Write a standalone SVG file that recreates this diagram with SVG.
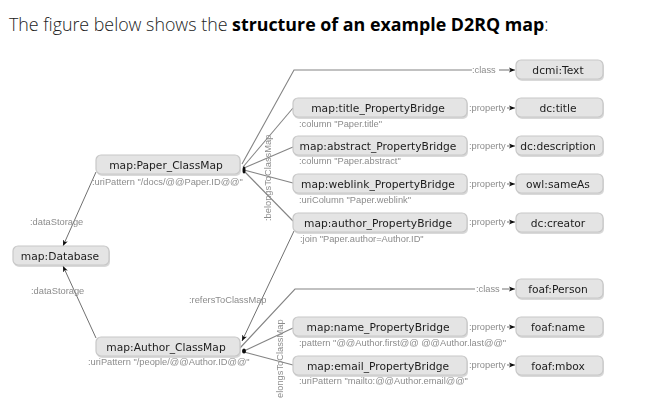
<svg xmlns="http://www.w3.org/2000/svg" width="650" height="400" viewBox="0 0 650 400">
<defs>
<filter id="blur" x="-2%" y="-2%" width="104%" height="104%"><feGaussianBlur stdDeviation="0.4"/></filter>
<marker id="arr" markerWidth="7" markerHeight="6" refX="6" refY="3" orient="auto" markerUnits="userSpaceOnUse"><path d="M0,0.5 L6,3 L0,5.5 L1.5,3 Z" fill="#111"/></marker>
</defs>
<style>
.box{fill:#e4e4e4;stroke:#c8c8c8;stroke-width:1.2}
.shadow{fill:#b4b4b4;opacity:.5}
.name{font:10.7px "DejaVu Sans",sans-serif;fill:#1c1c1c;text-anchor:middle}
.lit{font:9.3px "Liberation Sans",Arial,sans-serif;fill:#8c8c8c}
.edge{fill:none;stroke:#848484;stroke-width:1.1}
.tip{fill:none;stroke:#707070;stroke-width:1;marker-end:url(#arr)}
.head{font-family:"Open Sans","Noto Sans",sans-serif;font-size:17.82px;fill:#222}
.blob{fill:#111}
</style>
<text x="9" y="31" class="head" font-weight="300">The figure below shows the <tspan font-weight="700" fill="#000">structure of an example D2RQ map</tspan>:</text>
<g filter="url(#blur)">
<g id="connectors">
<path class="edge" d="M242,164 L294,70 L472,70"/>
<path class="edge" d="M243,167 L293,108"/>
<path class="edge" d="M244,168 L293,147"/>
<path class="edge" d="M244,170 L293,183"/>
<path class="edge" d="M244,171 L293,221"/>
<ellipse class="blob" cx="244" cy="170" rx="1.5" ry="3.5"/>
<path class="tip" d="M96,172 L63,246"/>
<path class="tip" d="M96,338 L63,266"/>
<path class="tip" d="M294,231 L242,341"/>
<path class="edge" d="M240,348 L295,289 L475,289"/>
<path class="edge" d="M244,351 L293,328"/>
<path class="edge" d="M244,352 L293,365"/>
<ellipse class="blob" cx="244" cy="351" rx="2" ry="2.5"/>
<path class="tip" d="M499,70 L515,70"/>
<path class="tip" d="M507,108 L515,108"/>
<path class="tip" d="M507,146 L515,146"/>
<path class="tip" d="M507,184 L515,184"/>
<path class="tip" d="M507,222 L515,222"/>
<path class="tip" d="M502,289 L515,289"/>
<path class="tip" d="M507,327 L515,327"/>
<path class="tip" d="M507,365 L515,365"/>
</g>
<g id="edge-labels" class="lit">
<text x="30" y="225">:dataStorage</text>
<text x="31" y="294">:dataStorage</text>
<text x="189" y="303">:refersToClassMap</text>
<text x="472" y="73">:class</text>
<text x="476" y="292">:class</text>
<text x="469" y="111">:property</text>
<text x="469" y="149">:property</text>
<text x="469" y="187">:property</text>
<text x="469" y="225">:property</text>
<text x="469" y="330">:property</text>
<text x="469" y="368">:property</text>
<text transform="translate(271,221) rotate(-90)">:belongsToClassMap</text>
<text transform="translate(283,398) rotate(-90)">elongsToClassMap</text>
</g>
<g id="map-paper-classmap"><rect class="shadow" x="97" y="157" width="144" height="19" rx="5"/><rect class="box" x="96" y="155" width="144" height="19" rx="5"/><text class="name" x="166" y="169">map:Paper_ClassMap</text><text class="lit" x="92" y="185">:uriPattern "/docs/@@Paper.ID@@"</text></g>
<g id="map-database"><rect class="shadow" x="14" y="248" width="96" height="19" rx="5"/><rect class="box" x="13" y="246" width="96" height="19" rx="5"/><text class="name" x="60" y="260">map:Database</text></g>
<g id="map-author-classmap"><rect class="shadow" x="97" y="339" width="144" height="19" rx="5"/><rect class="box" x="96" y="337" width="144" height="19" rx="5"/><text class="name" x="166" y="351">map:Author_ClassMap</text><text class="lit" x="88" y="365">:uriPattern "/people/@@Author.ID@@"</text></g>
<g id="dcmi-text"><rect class="shadow" x="517" y="62" width="87" height="19" rx="5"/><rect class="box" x="516" y="60" width="87" height="19" rx="5"/><text class="name" x="558" y="74">dcmi:Text</text></g>
<g id="map-title"><rect class="shadow" x="294" y="100" width="174" height="19" rx="5"/><rect class="box" x="293" y="98" width="174" height="19" rx="5"/><text class="name" x="378" y="112">map:title_PropertyBridge</text><text class="lit" x="299" y="127">:column "Paper.title"</text></g>
<g id="dc-title"><rect class="shadow" x="517" y="100" width="87" height="19" rx="5"/><rect class="box" x="516" y="98" width="87" height="19" rx="5"/><text class="name" x="558" y="112">dc:title</text></g>
<g id="map-abstract"><rect class="shadow" x="294" y="138" width="174" height="19" rx="5"/><rect class="box" x="293" y="136" width="174" height="19" rx="5"/><text class="name" x="378" y="150">map:abstract_PropertyBridge</text><text class="lit" x="299" y="164">:column "Paper.abstract"</text></g>
<g id="dc-description"><rect class="shadow" x="517" y="138" width="87" height="19" rx="5"/><rect class="box" x="516" y="136" width="87" height="19" rx="5"/><text class="name" x="558" y="150">dc:description</text></g>
<g id="map-weblink"><rect class="shadow" x="294" y="176" width="174" height="19" rx="5"/><rect class="box" x="293" y="174" width="174" height="19" rx="5"/><text class="name" x="378" y="188">map:weblink_PropertyBridge</text><text class="lit" x="299" y="203">:uriColumn "Paper.weblink"</text></g>
<g id="owl-sameas"><rect class="shadow" x="517" y="176" width="87" height="19" rx="5"/><rect class="box" x="516" y="174" width="87" height="19" rx="5"/><text class="name" x="558" y="188">owl:sameAs</text></g>
<g id="map-author"><rect class="shadow" x="294" y="215" width="174" height="19" rx="5"/><rect class="box" x="293" y="213" width="174" height="19" rx="5"/><text class="name" x="378" y="227">map:author_PropertyBridge</text><text class="lit" x="300" y="242">:join "Paper.author=Author.ID"</text></g>
<g id="dc-creator"><rect class="shadow" x="517" y="215" width="87" height="19" rx="5"/><rect class="box" x="516" y="213" width="87" height="19" rx="5"/><text class="name" x="558" y="227">dc:creator</text></g>
<g id="foaf-person"><rect class="shadow" x="517" y="281" width="87" height="19" rx="5"/><rect class="box" x="516" y="279" width="87" height="19" rx="5"/><text class="name" x="558" y="293">foaf:Person</text></g>
<g id="map-name"><rect class="shadow" x="294" y="319" width="174" height="19" rx="5"/><rect class="box" x="293" y="317" width="174" height="19" rx="5"/><text class="name" x="378" y="331">map:name_PropertyBridge</text><text class="lit" x="299" y="346">:pattern "@@Author.first@@ @@Author.last@@"</text></g>
<g id="foaf-name"><rect class="shadow" x="517" y="319" width="87" height="19" rx="5"/><rect class="box" x="516" y="317" width="87" height="19" rx="5"/><text class="name" x="558" y="331">foaf:name</text></g>
<g id="map-email"><rect class="shadow" x="294" y="358" width="174" height="19" rx="5"/><rect class="box" x="293" y="356" width="174" height="19" rx="5"/><text class="name" x="378" y="370">map:email_PropertyBridge</text><text class="lit" x="299" y="384">:uriPattern "mailto:@@Author.email@@"</text></g>
<g id="foaf-mbox"><rect class="shadow" x="517" y="358" width="87" height="19" rx="5"/><rect class="box" x="516" y="356" width="87" height="19" rx="5"/><text class="name" x="558" y="370">foaf:mbox</text></g>
</g>
</svg>
